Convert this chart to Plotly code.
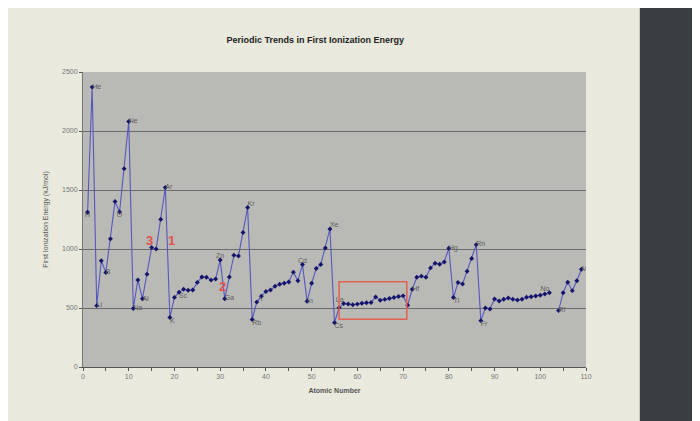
import plotly.graph_objects as go

# first ionization energy (kJ/mol), elements 1-109; Lr (103) has no point on the chart
atomic_number = list(range(1, 110))
symbols = [
    "H", "He", "Li", "Be", "B", "C", "N", "O", "F", "Ne",
    "Na", "Mg", "Al", "Si", "P", "S", "Cl", "Ar", "K", "Ca",
    "Sc", "Ti", "V", "Cr", "Mn", "Fe", "Co", "Ni", "Cu", "Zn",
    "Ga", "Ge", "As", "Se", "Br", "Kr", "Rb", "Sr", "Y", "Zr",
    "Nb", "Mo", "Tc", "Ru", "Rh", "Pd", "Ag", "Cd", "In", "Sn",
    "Sb", "Te", "I", "Xe", "Cs", "Ba", "La", "Ce", "Pr", "Nd",
    "Pm", "Sm", "Eu", "Gd", "Tb", "Dy", "Ho", "Er", "Tm", "Yb",
    "Lu", "Hf", "Ta", "W", "Re", "Os", "Ir", "Pt", "Au", "Hg",
    "Tl", "Pb", "Bi", "Po", "At", "Rn", "Fr", "Ra", "Ac", "Th",
    "Pa", "U", "Np", "Pu", "Am", "Cm", "Bk", "Cf", "Es", "Fm",
    "Md", "No", "Lr", "Rf", "Db", "Sg", "Bh", "Hs", "Mt",
]
ion_energy = [
    1312, 2372, 520, 900, 801, 1086, 1402, 1314, 1681, 2081,
    496, 738, 578, 787, 1012, 1000, 1251, 1521, 419, 590,
    633, 659, 651, 653, 717, 762, 760, 737, 745, 906,
    579, 762, 947, 941, 1140, 1351, 403, 550, 600, 640,
    652, 684, 702, 710, 720, 804, 731, 868, 558, 709,
    834, 869, 1008, 1170, 376, 503, 538, 534, 527, 533,
    540, 545, 547, 593, 566, 573, 581, 589, 597, 603,
    524, 659, 761, 770, 760, 840, 880, 870, 890, 1007,
    589, 716, 703, 812, 920, 1037, 393, 500, 492, 576,
    559, 574, 585, 574, 567, 574, 591, 596, 602, 608,
    619, 630, None, 478, 630, 718, 647, 731, 828,
]

# elements that carry a text label on the chart, and where the label sits
label_symbols = ["H", "He", "Li", "B", "O", "Ne", "Na", "Al", "Ar", "K",
                 "Sc", "Zn", "Ga", "Kr", "Rb", "Y", "Cd", "In", "Xe", "La",
                 "Cs", "Hf", "Hg", "Tl", "Rn", "Fr", "No", "Rf", "Mt"]
label_pos = ["bottom center", "middle right", "middle right", "middle right",
             "bottom center", "middle right", "middle right", "middle right",
             "middle right", "bottom right", "bottom right", "top center",
             "middle right", "top right", "bottom right", "bottom center",
             "top center", "middle right", "top right", "top left",
             "bottom right", "middle right", "middle right", "bottom right",
             "middle right", "bottom right", "top left", "middle right",
             "middle right"]

# red hand-drawn notes and the box round the lanthanides
note_text = ["3", "1", "2"]
note_x = [14.5, 19.4, 30.5]
note_y = [1076, 1068, 680]
box_x = [56.0, 70.8]
box_y = [404, 723]

x_ticks = list(range(0, 111, 10))
y_ticks = [0, 500, 1000, 1500, 2000, 2500]

lab_x = [atomic_number[symbols.index(s)] for s in label_symbols]
lab_y = [ion_energy[symbols.index(s)] for s in label_symbols]

fig = go.Figure()
fig.add_trace(go.Scatter(
    x=atomic_number, y=ion_energy, mode="lines+markers",
    line=dict(color="#5757c0", width=1.1),
    marker=dict(symbol="diamond", size=3.8, color="#14146a"),
    connectgaps=False, hoverinfo="x+y",
))
fig.add_trace(go.Scatter(
    x=lab_x, y=lab_y, mode="text", text=label_symbols,
    textposition=label_pos,
    textfont=dict(family="Arial, Liberation Sans", size=7, color="#5e5e5e"),
    hoverinfo="skip",
))

for t, nx, ny in zip(note_text, note_x, note_y):
    fig.add_annotation(x=nx, y=ny, text="<b>" + t + "</b>", showarrow=False,
                       font=dict(family="Arial, Liberation Sans", size=13, color="#e0554a"))

fig.add_shape(type="rect", x0=box_x[0], x1=box_x[1], y0=box_y[0], y1=box_y[1],
              line=dict(color="#e2604e", width=1.5))

# monitor bezel on the right edge of the photo
fig.add_shape(type="rect", xref="paper", yref="paper",
              x0=1.107, x1=1.4, y0=-0.4, y1=1.35,
              fillcolor="#3b3e40", line=dict(width=0), layer="below")

fig.update_layout(
    width=700, height=421,
    margin=dict(l=75, r=122, t=64, b=62, autoexpand=False),
    paper_bgcolor="#e9e9dd",
    plot_bgcolor="#b9b9b6",
    showlegend=False,
    font=dict(family="Arial, Liberation Sans", color="#333333"),
    title=dict(text="<b>Periodic Trends in First Ionization Energy</b>",
               x=0.439, xanchor="center", y=0.931, yref="container",
               font=dict(size=9, color="#222222")),
)
fig.update_xaxes(
    range=[0, 110], tickvals=x_ticks, showgrid=False, zeroline=False,
    showline=True, linecolor="#555555", linewidth=1,
    ticks="outside", ticklen=3, tickcolor="#555555",
    minor=dict(dtick=5, ticks="outside", ticklen=3, tickcolor="#555555"),
    tickfont=dict(size=7, color="#777777"),
    title=dict(text="<b>Atomic Number</b>", font=dict(size=7, color="#555555"), standoff=8),
)
fig.update_yaxes(
    range=[0, 2500], tickvals=y_ticks, showgrid=True, gridcolor="#6b6b6b", gridwidth=1.3,
    zeroline=False, showline=True, linecolor="#777777", linewidth=1,
    ticks="outside", ticklen=3, tickcolor="#555555",
    tickfont=dict(size=7, color="#777777"),
    title=dict(text="First Ionization Energy (kJ/mol)", font=dict(size=7, color="#555555"), standoff=12),
)

fig.write_html("out.html")
